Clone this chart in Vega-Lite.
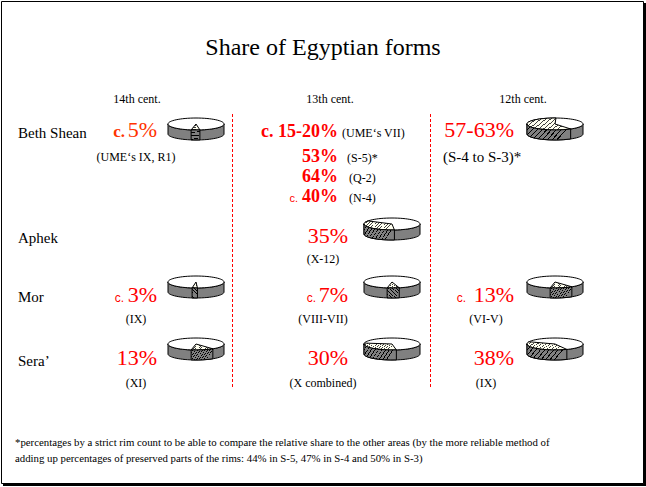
{
  "$schema": "https://vega.github.io/schema/vega-lite/v6.json",
  "width": 646,
  "height": 487,
  "padding": 0,
  "autosize": {"type": "none"},
  "background": "white",
  "config": {
    "view": {"stroke": null},
    "text": {"font": "Liberation Serif", "fill": "black", "baseline": "alphabetic"}
  },
  "datasets": {
    "cells": [
      {"site": "Beth Shean", "order": 1, "cent": 14, "line": 0, "prefix": "c.", "label": "5%", "src": "(UME‘s IX, R1)", "pct": 5},
      {"site": "Beth Shean", "order": 1, "cent": 13, "line": 0, "prefix": "", "label": "c. 15-20%", "src": "(UME‘s VII)", "pct": null},
      {"site": "Beth Shean", "order": 1, "cent": 13, "line": 1, "prefix": "", "label": "53%", "src": "(S-5)*", "pct": null},
      {"site": "Beth Shean", "order": 1, "cent": 13, "line": 2, "prefix": "", "label": "64%", "src": "(Q-2)", "pct": null},
      {"site": "Beth Shean", "order": 1, "cent": 13, "line": 3, "prefix": "c.", "label": "40%", "src": "(N-4)", "pct": null},
      {"site": "Beth Shean", "order": 1, "cent": 12, "line": 0, "prefix": "", "label": "57-63%", "src": "(S-4 to S-3)*", "pct": 60},
      {"site": "Aphek", "order": 2, "cent": 13, "line": 0, "prefix": "", "label": "35%", "src": "(X-12)", "pct": 35},
      {"site": "Mor", "order": 3, "cent": 14, "line": 0, "prefix": "c.", "label": "3%", "src": "(IX)", "pct": 3},
      {"site": "Mor", "order": 3, "cent": 13, "line": 0, "prefix": "c.", "label": "7%", "src": "(VIII-VII)", "pct": 7},
      {"site": "Mor", "order": 3, "cent": 12, "line": 0, "prefix": "c.", "label": "13%", "src": "(VI-V)", "pct": 13},
      {"site": "Sera’", "order": 4, "cent": 14, "line": 0, "prefix": "", "label": "13%", "src": "(XI)", "pct": 13},
      {"site": "Sera’", "order": 4, "cent": 13, "line": 0, "prefix": "", "label": "30%", "src": "(X combined)", "pct": 30},
      {"site": "Sera’", "order": 4, "cent": 12, "line": 0, "prefix": "", "label": "38%", "src": "(IX)", "pct": 38}
    ],
    "sites": [
      {"site": "Beth Shean", "order": 1},
      {"site": "Aphek", "order": 2},
      {"site": "Mor", "order": 3},
      {"site": "Sera’", "order": 4}
    ],
    "cents": [
      {"cent": 14, "label": "14th cent."},
      {"cent": 13, "label": "13th cent."},
      {"cent": 12, "label": "12th cent."}
    ],
    "note": [
      {"line": 1, "text": "*percentages by a strict rim count to be able to compare the relative share to the other areas (by the more reliable method of"},
      {"line": 2, "text": "adding up percentages of preserved  parts of  the rims: 44% in S-5, 47% in S-4 and 50% in S-3)"}
    ]
  },
  "resolve": {"scale": {"x": "independent", "y": "independent", "shape": "independent"}},
  "layer": [
    {
      "data": {"values": [{}]},
      "mark": {"type": "rect", "x": 3, "y": 3, "x2": 646, "y2": 486, "fill": "black"},
      "encoding": {}
    },
    {
      "data": {"values": [{}]},
      "mark": {"type": "rect", "x": 1.5, "y": 1.5, "x2": 643.5, "y2": 483.5, "fill": "white", "stroke": "black", "strokeWidth": 1},
      "encoding": {}
    },
    {
      "data": {"values": [{"t": "Share of Egyptian forms"}]},
      "mark": {"type": "text", "x": 323, "y": 55, "align": "center", "font": "Liberation Serif", "fontSize": 24},
      "encoding": {"text": {"field": "t"}}
    },
    {
      "data": {"name": "cents"},
      "mark": {"type": "text", "y": 103, "align": "center", "font": "Liberation Serif", "fontSize": 12},
      "encoding": {
        "x": {"field": "cent", "type": "quantitative", "scale": {"domain": [14, 13, 12], "range": [137, 330, 523], "nice": false, "zero": false}, "axis": null},
        "text": {"field": "label"}
      }
    },
    {
      "data": {"name": "sites"},
      "mark": {"type": "text", "x": 18, "align": "left", "font": "Liberation Serif", "fontSize": 15},
      "encoding": {
        "y": {"field": "order", "type": "quantitative", "scale": {"domain": [1, 2, 3, 4], "range": [138, 243, 302, 366], "nice": false, "zero": false}, "axis": null},
        "text": {"field": "site"}
      }
    },
    {
      "data": {"values": [{"after": 14}, {"after": 13}]},
      "mark": {"type": "rule", "y": 114, "y2": 387, "stroke": "#ff0000", "strokeWidth": 1, "strokeDash": [3, 2]},
      "encoding": {
        "x": {"field": "after", "type": "quantitative", "scale": {"domain": [14, 13], "range": [232.5, 430.5], "nice": false, "zero": false}, "axis": null}
      }
    },
    {
      "data": {"name": "cells"},
      "transform": [{"filter": "datum.pct != null"}],
      "mark": {"type": "point", "shape": "M-1,0 L-1,0.357 A1,0.214 0 0,0 1,0.357 L1,0 A1,0.214 0 0,1 -1,0 Z", "size": 3136, "filled": true, "fill": "#808080", "stroke": "black", "strokeWidth": 1, "opacity": 1},
      "encoding": {
        "x": {"field": "cent", "type": "quantitative", "scale": {"domain": [14, 13, 12], "range": [196, 392, 555], "nice": false, "zero": false}, "axis": null},
        "y": {"field": "order", "type": "quantitative", "scale": {"domain": [1, 2, 3, 4], "range": [124, 224, 282, 344], "nice": false, "zero": false}, "axis": null}
      }
    },
    {
      "data": {"name": "cells"},
      "transform": [{"filter": "datum.pct != null"}],
      "mark": {"type": "point", "shape": "M-1,0 A1,0.214 0 1,0 1,0 A1,0.214 0 1,0 -1,0 Z", "size": 3136, "filled": true, "fill": "white", "stroke": "black", "strokeWidth": 1, "opacity": 1},
      "encoding": {
        "x": {"field": "cent", "type": "quantitative", "scale": {"domain": [14, 13, 12], "range": [196, 392, 555], "nice": false, "zero": false}, "axis": null},
        "y": {"field": "order", "type": "quantitative", "scale": {"domain": [1, 2, 3, 4], "range": [124, 224, 282, 344], "nice": false, "zero": false}, "axis": null}
      }
    },
    {
      "data": {"name": "cells"},
      "transform": [{"filter": "datum.pct != null"}],
      "mark": {
        "type": "point", "size": 3136, "filled": true, "stroke": "black", "strokeWidth": 1, "opacity": 1,
        "fill": {
          "gradient": "linear", "x1": 0, "y1": 0, "x2": 1, "y2": 0.33,
          "stops": [
            {"offset": 0, "color": "#404040"}, {"offset": 0.025, "color": "#404040"}, {"offset": 0.025, "color": "#fffff0"}, {"offset": 0.1, "color": "#fffff0"},
            {"offset": 0.1, "color": "#404040"}, {"offset": 0.125, "color": "#404040"}, {"offset": 0.125, "color": "#fffff0"}, {"offset": 0.2, "color": "#fffff0"},
            {"offset": 0.2, "color": "#404040"}, {"offset": 0.225, "color": "#404040"}, {"offset": 0.225, "color": "#fffff0"}, {"offset": 0.3, "color": "#fffff0"},
            {"offset": 0.3, "color": "#404040"}, {"offset": 0.325, "color": "#404040"}, {"offset": 0.325, "color": "#fffff0"}, {"offset": 0.4, "color": "#fffff0"},
            {"offset": 0.4, "color": "#404040"}, {"offset": 0.425, "color": "#404040"}, {"offset": 0.425, "color": "#fffff0"}, {"offset": 0.5, "color": "#fffff0"},
            {"offset": 0.5, "color": "#404040"}, {"offset": 0.525, "color": "#404040"}, {"offset": 0.525, "color": "#fffff0"}, {"offset": 0.6, "color": "#fffff0"},
            {"offset": 0.6, "color": "#404040"}, {"offset": 0.625, "color": "#404040"}, {"offset": 0.625, "color": "#fffff0"}, {"offset": 0.7, "color": "#fffff0"},
            {"offset": 0.7, "color": "#404040"}, {"offset": 0.725, "color": "#404040"}, {"offset": 0.725, "color": "#fffff0"}, {"offset": 0.8, "color": "#fffff0"},
            {"offset": 0.8, "color": "#404040"}, {"offset": 0.825, "color": "#404040"}, {"offset": 0.825, "color": "#fffff0"}, {"offset": 0.9, "color": "#fffff0"},
            {"offset": 0.9, "color": "#404040"}, {"offset": 0.925, "color": "#404040"}, {"offset": 0.925, "color": "#fffff0"}, {"offset": 1, "color": "#fffff0"}
          ]
        }
      },
      "encoding": {
        "x": {"field": "cent", "type": "quantitative", "scale": {"domain": [14, 13, 12], "range": [196, 392, 555], "nice": false, "zero": false}, "axis": null},
        "y": {"field": "order", "type": "quantitative", "scale": {"domain": [1, 2, 3, 4], "range": [124, 224, 282, 344], "nice": false, "zero": false}, "axis": null},
        "shape": {
          "field": "pct", "type": "nominal", "legend": null,
          "scale": {
            "domain": [3, 5, 7, 13, 30, 35, 38, 60],
            "range": [
              "M0,0 L0.052,0.214 A1,0.214 0 0,1 -0.139,0.212 Z",
              "M0,0 L0.139,0.212 A1,0.214 0 0,1 -0.174,0.211 Z",
              "M0,0 L0.259,0.207 A1,0.214 0 0,1 -0.174,0.211 Z",
              "M0,0 L0.602,0.171 A1,0.214 0 0,1 -0.174,0.211 Z",
              "M0,0 L0.156,0.211 A1,0.214 0 0,1 -0.988,-0.033 Z",
              "M0,0 L0.087,0.213 A1,0.214 0 0,1 -0.857,-0.110 Z",
              "M0,0 L0.423,0.194 A1,0.214 0 0,1 -0.927,-0.080 Z",
              "M0,0 L0.559,0.177 A1,0.214 0 1,1 0.035,-0.214 Z"
            ]
          }
        }
      }
    },
    {
      "data": {"name": "cells"},
      "transform": [{"filter": "datum.pct != null"}],
      "mark": {
        "type": "point", "size": 3136, "filled": true, "stroke": "black", "strokeWidth": 1, "opacity": 1,
        "fill": {
          "gradient": "linear", "x1": 0, "y1": 0, "x2": 1, "y2": 0.33,
          "stops": [
            {"offset": 0, "color": "#000000"}, {"offset": 0.025, "color": "#000000"}, {"offset": 0.025, "color": "#808080"}, {"offset": 0.1, "color": "#808080"},
            {"offset": 0.1, "color": "#000000"}, {"offset": 0.125, "color": "#000000"}, {"offset": 0.125, "color": "#808080"}, {"offset": 0.2, "color": "#808080"},
            {"offset": 0.2, "color": "#000000"}, {"offset": 0.225, "color": "#000000"}, {"offset": 0.225, "color": "#808080"}, {"offset": 0.3, "color": "#808080"},
            {"offset": 0.3, "color": "#000000"}, {"offset": 0.325, "color": "#000000"}, {"offset": 0.325, "color": "#808080"}, {"offset": 0.4, "color": "#808080"},
            {"offset": 0.4, "color": "#000000"}, {"offset": 0.425, "color": "#000000"}, {"offset": 0.425, "color": "#808080"}, {"offset": 0.5, "color": "#808080"},
            {"offset": 0.5, "color": "#000000"}, {"offset": 0.525, "color": "#000000"}, {"offset": 0.525, "color": "#808080"}, {"offset": 0.6, "color": "#808080"},
            {"offset": 0.6, "color": "#000000"}, {"offset": 0.625, "color": "#000000"}, {"offset": 0.625, "color": "#808080"}, {"offset": 0.7, "color": "#808080"},
            {"offset": 0.7, "color": "#000000"}, {"offset": 0.725, "color": "#000000"}, {"offset": 0.725, "color": "#808080"}, {"offset": 0.8, "color": "#808080"},
            {"offset": 0.8, "color": "#000000"}, {"offset": 0.825, "color": "#000000"}, {"offset": 0.825, "color": "#808080"}, {"offset": 0.9, "color": "#808080"},
            {"offset": 0.9, "color": "#000000"}, {"offset": 0.925, "color": "#000000"}, {"offset": 0.925, "color": "#808080"}, {"offset": 1, "color": "#808080"}
          ]
        }
      },
      "encoding": {
        "x": {"field": "cent", "type": "quantitative", "scale": {"domain": [14, 13, 12], "range": [196, 392, 555], "nice": false, "zero": false}, "axis": null},
        "y": {"field": "order", "type": "quantitative", "scale": {"domain": [1, 2, 3, 4], "range": [124, 224, 282, 344], "nice": false, "zero": false}, "axis": null},
        "shape": {
          "field": "pct", "type": "nominal", "legend": null,
          "scale": {
            "domain": [3, 5, 7, 13, 30, 35, 38, 60],
            "range": [
              "M0.052,0.214 L0.052,0.571 A1,0.214 0 0,1 -0.139,0.569 L-0.139,0.212 A1,0.214 0 0,0 0.052,0.214 Z",
              "M0.139,0.212 L0.139,0.569 A1,0.214 0 0,1 -0.174,0.568 L-0.174,0.211 A1,0.214 0 0,0 0.139,0.212 Z",
              "M0.259,0.207 L0.259,0.564 A1,0.214 0 0,1 -0.174,0.568 L-0.174,0.211 A1,0.214 0 0,0 0.259,0.207 Z",
              "M0.602,0.171 L0.602,0.528 A1,0.214 0 0,1 -0.174,0.568 L-0.174,0.211 A1,0.214 0 0,0 0.602,0.171 Z",
              "M0.156,0.211 L0.156,0.568 A1,0.214 0 0,1 -1,0.357 L-1,0 A1,0.214 0 0,0 0.156,0.211 Z",
              "M0.087,0.213 L0.087,0.570 A1,0.214 0 0,1 -1,0.357 L-1,0 A1,0.214 0 0,0 0.087,0.213 Z",
              "M0.423,0.194 L0.423,0.551 A1,0.214 0 0,1 -1,0.357 L-1,0 A1,0.214 0 0,0 0.423,0.194 Z",
              "M0.559,0.177 L0.559,0.534 A1,0.214 0 0,1 -1,0.357 L-1,0 A1,0.214 0 0,0 0.559,0.177 Z"
            ]
          }
        }
      }
    },
    {
      "data": {"name": "cells"},
      "transform": [{"filter": "!(datum.site === 'Beth Shean' && datum.cent === 13)"}],
      "mark": {"type": "text", "align": "right", "font": "Liberation Serif", "fontSize": 22},
      "encoding": {
        "x": {"field": "cent", "type": "quantitative", "scale": {"domain": [14, 13, 12], "range": [157, 348, 514], "nice": false, "zero": false}, "axis": null},
        "y": {"field": "order", "type": "quantitative", "scale": {"domain": [1, 2, 3, 4], "range": [137, 242.5, 301.7, 365], "nice": false, "zero": false}, "axis": null},
        "text": {"field": "label"},
        "color": {"condition": {"test": "datum.site === 'Beth Shean' && datum.cent === 14", "value": "#ff3300"}, "value": "#ff0000"}
      }
    },
    {
      "data": {"name": "cells"},
      "transform": [{"filter": "datum.site === 'Beth Shean' && datum.cent === 13"}],
      "mark": {"type": "text", "align": "right", "x": 338, "font": "Liberation Serif", "fontSize": 18, "fontWeight": "bold", "fill": "#ff0000"},
      "encoding": {
        "y": {"field": "line", "type": "quantitative", "scale": {"domain": [0, 1, 2, 3], "range": [136.7, 161.7, 181.7, 201.7], "nice": false, "zero": false}, "axis": null},
        "text": {"field": "label"}
      }
    },
    {
      "data": {"name": "cells"},
      "transform": [{"filter": "datum.prefix === 'c.' && datum.site === 'Mor'"}],
      "mark": {"type": "text", "align": "right", "font": "Liberation Sans", "fontSize": 12, "fill": "#ff0000"},
      "encoding": {
        "x": {"field": "cent", "type": "quantitative", "scale": {"domain": [14, 13, 12], "range": [124, 316, 466], "nice": false, "zero": false}, "axis": null},
        "y": {"field": "order", "type": "quantitative", "scale": {"domain": [1, 2, 3, 4], "range": [137, 242.5, 301.7, 365], "nice": false, "zero": false}, "axis": null},
        "text": {"field": "prefix"}
      }
    },
    {
      "data": {"name": "cells"},
      "transform": [{"filter": "datum.site === 'Beth Shean' && datum.cent === 14"}],
      "mark": {"type": "text", "align": "right", "x": 125, "y": 137, "font": "Liberation Serif", "fontSize": 17, "fontWeight": "bold", "fill": "#ff3300"},
      "encoding": {"text": {"field": "prefix"}}
    },
    {
      "data": {"name": "cells"},
      "transform": [{"filter": "datum.site === 'Beth Shean' && datum.cent === 13 && datum.prefix === 'c.'"}],
      "mark": {"type": "text", "align": "right", "x": 298, "y": 201.7, "font": "Liberation Sans", "fontSize": 11, "fill": "#ff0000"},
      "encoding": {"text": {"field": "prefix"}}
    },
    {
      "data": {"name": "cells"},
      "transform": [{"filter": "datum.site !== 'Beth Shean' || datum.cent === 14"}],
      "mark": {"type": "text", "align": "center", "font": "Liberation Serif", "fontSize": 12},
      "encoding": {
        "x": {"field": "cent", "type": "quantitative", "scale": {"domain": [14, 13, 12], "range": [136, 323, 486], "nice": false, "zero": false}, "axis": null},
        "y": {"field": "order", "type": "quantitative", "scale": {"domain": [1, 2, 3, 4], "range": [161, 263, 323, 387], "nice": false, "zero": false}, "axis": null},
        "text": {"field": "src"}
      }
    },
    {
      "data": {"name": "cells"},
      "transform": [{"filter": "datum.site === 'Beth Shean' && datum.cent === 12"}],
      "mark": {"type": "text", "align": "left", "x": 443, "y": 162, "font": "Liberation Serif", "fontSize": 15},
      "encoding": {"text": {"field": "src"}}
    },
    {
      "data": {"name": "cells"},
      "transform": [{"filter": "datum.site === 'Beth Shean' && datum.cent === 13"}],
      "mark": {"type": "text", "align": "left", "font": "Liberation Serif", "fontSize": 12},
      "encoding": {
        "x": {"field": "line", "type": "quantitative", "scale": {"domain": [0, 1, 2, 3], "range": [342, 347, 349, 349], "nice": false, "zero": false}, "axis": null},
        "y": {"field": "line", "type": "quantitative", "scale": {"domain": [0, 1, 2, 3], "range": [136.7, 161.7, 181.7, 201.7], "nice": false, "zero": false}, "axis": null},
        "text": {"field": "src"}
      }
    },
    {
      "data": {"name": "note"},
      "mark": {"type": "text", "align": "left", "x": 15, "font": "Liberation Serif", "fontSize": 10.8},
      "encoding": {
        "y": {"field": "line", "type": "quantitative", "scale": {"domain": [1, 2], "range": [446, 462], "nice": false, "zero": false}, "axis": null},
        "text": {"field": "text"}
      }
    }
  ]
}
